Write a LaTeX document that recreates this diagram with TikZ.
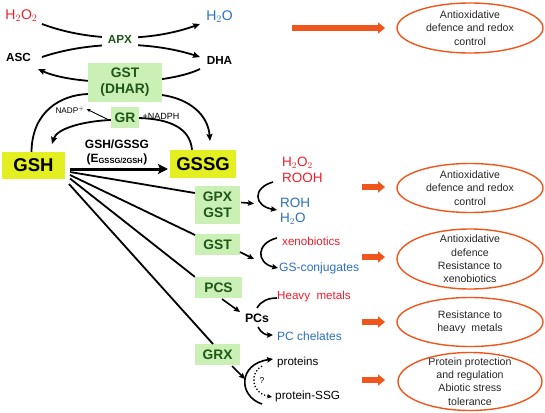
\documentclass[tikz,border=0pt]{standalone}
\usepackage{fontspec}
\setmainfont{Liberation Sans}
\usetikzlibrary{arrows.meta}
\definecolor{myred}{HTML}{F01C2A}
\definecolor{myblue}{HTML}{2C6EC2}
\definecolor{dkgreen}{HTML}{1F561A}
\definecolor{lgreen}{HTML}{CAF0B6}
\definecolor{yel}{HTML}{E3EF20}
\definecolor{orng}{HTML}{F0561C}
\newcommand{\fs}[2]{\fontsize{#1}{#2}\selectfont}
\begin{document}
\begin{tikzpicture}[x=1pt,y=-1pt,
  gbox/.style={fill=lgreen,text=dkgreen,font=\bfseries\fs{13.8}{16},inner sep=0pt,align=center},
  ybox/.style={fill=yel,text=black,font=\bfseries\fs{18.5}{20},inner sep=0pt},
  lbl/.style={inner sep=0pt},
  conn/.style={line width=1.8pt,black},
  arr/.style={conn,-{Stealth[length=7pt,width=6pt,inset=1pt]}},
  sarr/.style={line width=1.6pt,-{Stealth[length=6pt,width=5.5pt,inset=1pt]}},
  oarr/.style={draw=orng,line width=5.5pt,-{Triangle[length=7pt,width=11pt]}},
  ell/.style={draw=orng,line width=1.4pt},
  etext/.style={align=center,font=\fs{10.6}{13.3},inner sep=0pt,text=black!85}
]
\useasboundingbox (0,0) rectangle (545,412);

% ---- top cycle texts
\node[lbl,text=myred,font=\fs{14}{16}] (h2o2a) at (21.5,16) {H$_2$O$_2$};
\node[lbl,text=myblue,font=\fs{14}{16}] (h2oa) at (219.5,17) {H$_2$O};
\node[lbl,font=\bfseries\fs{11.7}{13}] (asc) at (18.5,57) {ASC};
\node[lbl,font=\bfseries\fs{11.7}{13}] (dha) at (219.5,60) {DHA};

\coordinate (a1) at (42,24);
\coordinate (a2) at (200,24);
\coordinate (b1) at (42,57);
\coordinate (b2) at (200,57);
\draw[arr] (a1) .. controls (90,42) and (150,42) .. (a2);
\draw[arr] (b1) .. controls (90,41) and (150,41) .. (b2);
\node[lbl,fill=white,inner xsep=6pt,inner ysep=5pt,text=dkgreen,font=\bfseries\fs{11.7}{13}] (apx) at (120,39) {APX};

% DHA -> ASC through GST(DHAR)
\coordinate (c1) at (200,69);
\coordinate (c2) at (38,69);
\draw[arr] (c1) .. controls (165,86) and (75,86) .. (c2);

% ---- GSH / GSSG
\node[ybox,minimum width=63pt,minimum height=27pt] (gsh) at (33.5,165.5) {GSH};
\node[ybox,minimum width=66pt,minimum height=28pt] (gssg) at (203,164) {GSSG};

% outer loop GSH -> GSSG
\draw[conn] ([xshift=-2pt]gsh.north) .. controls (32,112) and (60,95) .. (88,94);
\draw[arr] (162,95) .. controls (190,99) and (208,115) .. (210,141);
% inner loop GSSG -> GR -> GSH
\draw[conn] ([xshift=-11pt]gssg.north) .. controls (190,128) and (170,119) .. (139,118);
\draw[arr] (111,120) .. controls (85,121) and (57,128) .. (52,144);

\node[gbox,minimum width=74pt,minimum height=39pt] (dhar) at (125,82.5) {GST\\(DHAR)};
\node[gbox,minimum width=28pt,minimum height=21pt] (gr) at (125,117.5) {GR};

\node[lbl,font=\fs{8.2}{9}] (nadp) at (70,110) {NADP$^{+}$};
\node[lbl,font=\fs{9}{10}] (nadph) at (161,116) {+NADPH};
\draw[line width=0.9pt,-{Stealth[length=4pt,width=3.5pt]}] ([xshift=-3pt,yshift=-2pt]gr.west) -- ([xshift=2pt,yshift=1pt]nadp.east);

% thick arrow GSH -> GSSG
\coordinate (t1) at (70,169);
\coordinate (t2) at (168,169);
\draw[line width=3pt,-{Stealth[length=10pt,width=10pt,inset=2pt]}] (t1) -- (t2);
\node[lbl,font=\bfseries\fs{12}{14}] (redox1) at (117,144) {GSH/GSSG};
\node[lbl,font=\bfseries\fs{12}{14}] (redox2) at (117,159) {(E\textsubscript{\fs{7.5}{8}GSSG/2GSH})};

% ---- enzyme boxes
\node[gbox,minimum width=45pt,minimum height=38pt] (gpx) at (217.5,205) {GPX\\GST};
\node[gbox,minimum width=45pt,minimum height=21pt] (gst) at (217.5,244.5) {GST};
\node[gbox,minimum width=47pt,minimum height=21pt] (pcs) at (218.5,287.5) {PCS};
\node[gbox,minimum width=45pt,minimum height=21pt] (grx) at (217.5,354.5) {GRX};

% fan lines
\draw[conn] (70,172) -- (gpx.north west |- 0,193);
\draw[conn] (70,175) -- (195,235);
\draw[conn] (70,178.5) -- (pcs.north west);
\draw[conn] (69,184) -- (213,344);

% small arrows
\draw[sarr] (241,202.5) -- (254,203.5);
\draw[sarr] (240,252) -- (254,259);
\draw[sarr] (222,299) -- (240,312);
\draw[sarr] (232,366) -- (245,379);

% ---- right side texts
\node[lbl,anchor=west,text=myred,font=\fs{13.5}{15}] (h2o2b) at (282,163) {H$_2$O$_2$};
\node[lbl,anchor=west,text=myred,font=\fs{13.5}{15}] (rooh) at (282,178) {ROOH};
\node[lbl,anchor=west,text=myblue,font=\fs{13.5}{15}] (roh) at (280,203) {ROH};
\node[lbl,anchor=west,text=myblue,font=\fs{13.5}{15}] (h2ob) at (280,219) {H$_2$O};
\draw[sarr] (273,182) .. controls (252,188) and (254,206) .. (277,210);

\node[lbl,anchor=west,text=myred,font=\fs{11.6}{13}] (xeno) at (282,241) {xenobiotics};
\node[lbl,anchor=west,text=myblue,font=\fs{12.1}{14}] (gsconj) at (279,268) {GS-conjugates};
\draw[sarr] (277,238) .. controls (256,243) and (256,263) .. (278,268);

\node[lbl,anchor=west,text=myred,font=\fs{11.6}{14}] (hm) at (277,296) {Heavy\ \ metals};
\node[lbl,font=\bfseries\fs{12.3}{14}] (pcs2) at (257,318) {PCs};
\node[lbl,anchor=west,text=myblue,font=\fs{12}{14}] (pcch) at (277,336) {PC chelates};
\draw[line width=1.6pt] (257,308) .. controls (261,301) and (268,298) .. (277,298);
\draw[sarr] (258,327) .. controls (261,333) and (266,335) .. (273,335);

\node[lbl,anchor=west,font=\fs{11.6}{13}] (prot) at (277,362) {proteins};
\node[lbl,anchor=west,font=\fs{11.8}{13}] (pssg) at (275,396) {protein-SSG};
\draw[sarr] (262,404) .. controls (238,396) and (238,364) .. (273,359);
\draw[line width=1.3pt,dotted,-{Stealth[length=5pt,width=4.5pt]}] (262,366) .. controls (250,372) and (250,393) .. (272,397);
\node[lbl,font=\fs{8.5}{9}] (q) at (262,381) {?};

% ---- orange arrows and ellipses
\draw[oarr] (292,28) -- (385,28);
\draw[oarr] (362,187) -- (385,187);
\draw[oarr] (362,257) -- (385,257);
\draw[oarr] (362,322) -- (385,322);
\draw[oarr] (362,380) -- (385,380);

\node[etext] (e1) at (470,28) {Antioxidative\\defence and redox\\control};
\node[etext] (e2) at (470,188) {Antioxidative\\defence and redox\\control};
\node[etext] (e3) at (470,259) {Antioxidative\\defence\\Resistance to\\xenobiotics};
\node[etext] (e4) at (470,322) {Resistance to\\heavy\ \ metals};
\node[etext] (e5) at (470,381.5) {Protein protection\\and regulation\\Abiotic stress\\tolerance};
\draw[ell] (e1.center) ellipse [x radius=73, y radius=25];
\draw[ell] (e2.center) ellipse [x radius=73, y radius=24.5];
\draw[ell] (e3.center) ellipse [x radius=73, y radius=30];
\draw[ell] (e4.center) ellipse [x radius=73, y radius=24.5];
\draw[ell] (e5.center) ellipse [x radius=72, y radius=29];
\end{tikzpicture}
\end{document}
